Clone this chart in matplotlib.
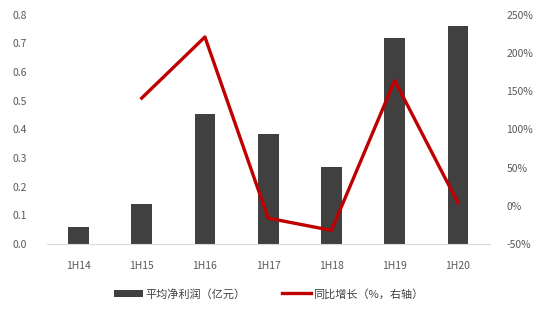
import matplotlib
matplotlib.use("Agg")
import matplotlib.pyplot as plt
from matplotlib.ticker import FuncFormatter

plt.rcParams['font.family'] = ['Noto Sans CJK SC', 'DejaVu Sans']

categories = ["1H14", "1H15", "1H16", "1H17", "1H18", "1H19", "1H20"]
profit = [0.06, 0.14, 0.455, 0.385, 0.27, 0.72, 0.76]
growth_x = ["1H15", "1H16", "1H17", "1H18", "1H19", "1H20"]
growth = [141, 221, -16, -32, 164, 4]

fig = plt.figure(figsize=(5.38, 3.15), dpi=100)
ax = fig.add_axes([0.087, 0.225, 0.823, 0.728])
ax2 = ax.twinx()

x = list(range(len(categories)))
bars = ax.bar(x, profit, width=0.33, color="#404040", zorder=2)
gx = [categories.index(c) for c in growth_x]
line, = ax2.plot(gx, growth, color="#C00000", lw=2.4, zorder=3)

ax.set_xlim(-0.5, len(categories) - 0.5)
ax.set_ylim(0, 0.8)
ax.set_yticks([i / 10 for i in range(9)])
ax.yaxis.set_major_formatter(FuncFormatter(lambda v, p: f"{v:.1f}"))
ax2.set_ylim(-50, 250)
ax2.set_yticks(range(-50, 251, 50))
ax2.yaxis.set_major_formatter(FuncFormatter(lambda v, p: f"{int(v)}%"))
ax.set_xticks(x)
ax.set_xticklabels(categories)

for a in (ax, ax2):
    for s in a.spines.values():
        s.set_visible(False)
    a.tick_params(length=0, labelsize=7.5, colors="#595959")
ax.spines['bottom'].set_visible(True)
ax.spines['bottom'].set_color("#D9D9D9")
ax.tick_params(axis='x', pad=12)
ax.tick_params(axis='y', pad=14)
ax2.tick_params(axis='y', pad=12)

fig.legend([bars, line], ["平均净利润（亿元）", "同比增长（%，右轴）"],
           loc="center", bbox_to_anchor=(0.5, 0.067), ncol=2, frameon=False,
           fontsize=8, handlelength=2.6, columnspacing=3.3, handletextpad=0.2,
           labelcolor="#404040")

fig.savefig("out.png", dpi=100)
